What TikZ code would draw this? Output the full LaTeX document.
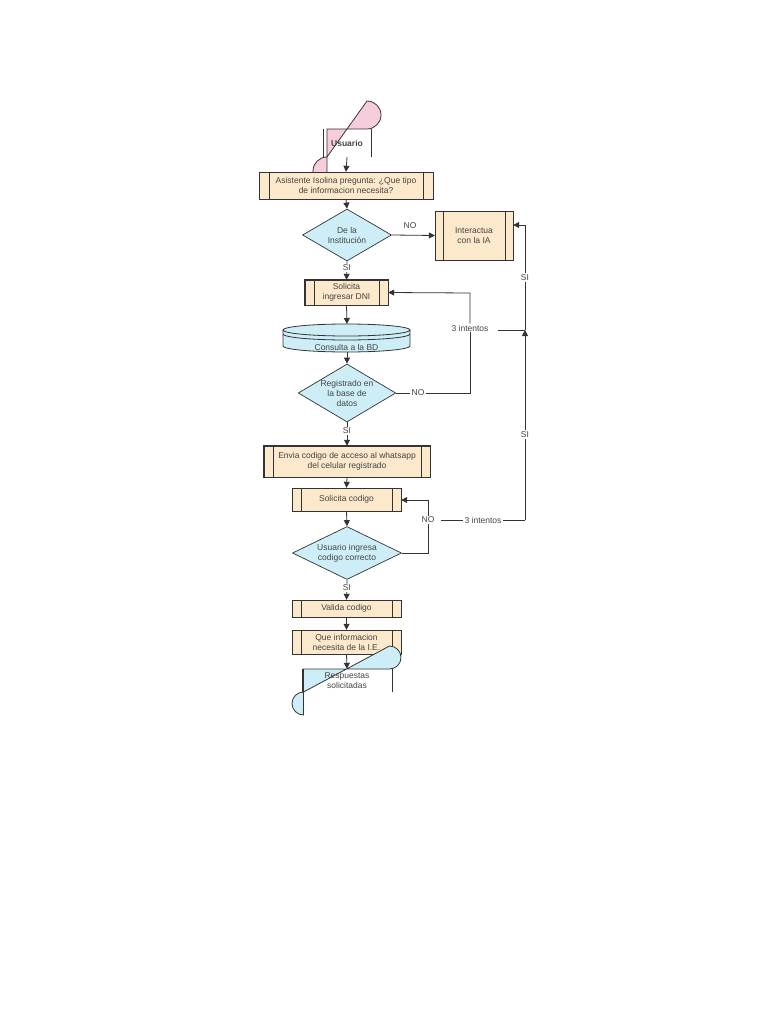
\documentclass[tikz,border=0pt]{standalone}
\usepackage{fontspec}
\setmainfont{Liberation Sans}
\usetikzlibrary{arrows.meta,shapes.geometric}
\definecolor{beige}{HTML}{FCE8CB}
\definecolor{lblue}{HTML}{CDEEF6}
\definecolor{pink}{HTML}{F6CDDC}
\definecolor{ln}{HTML}{333333}
\definecolor{tx}{HTML}{444444}
\begin{document}
\begin{tikzpicture}[x=1pt,y=-1pt,
  every node/.style={font=\fontsize{8.5}{10}\selectfont,text=tx,align=center,inner sep=0pt},
  proc/.style={draw=ln,fill=beige,rectangle,line width=0.7pt},
  dia/.style={draw=ln,fill=lblue,diamond,aspect=1.7,line width=0.7pt},
  arr/.style={-{Triangle[length=6pt,width=6pt]},draw=ln,line width=0.8pt},
  ln/.style={draw=ln,line width=0.8pt},
  lab/.style={fill=white,inner sep=1pt}]
\useasboundingbox (0,0) rectangle (768,1024);
% process helper: inner lines drawn separately
\newcommand{\procbox}[7]{% name, x1,y1,x2,y2, inset, text
  \draw[proc] (#2,#3) rectangle (#4,#5);
  \draw[ln] (#2+#6,#3) -- (#2+#6,#5) (#4-#6,#3) -- (#4-#6,#5);
  \node (#1) at ({(#2+#4)/2},{(#3+#5)/2}) [minimum width=#4-#2,minimum height=#5-#3] {#7};}
% Usuario
\draw[ln,fill=pink] (327,129) -- (367,129) arc[start angle=-90,end angle=90,x radius=14,y radius=-14] -- (327,157) arc[start angle=90,end angle=270,x radius=14,y radius=-14] -- cycle;
\draw[ln] (323,129)--(323,157) (371,129)--(371,157);
\node (u) at (347,143) [minimum width=68,minimum height=28] {\textbf{Usuario}};
\procbox{a}{259}{172}{433}{199}{10}{Asistente Isolina pregunta: ¿Que tipo\\de informacion necesita?}
\node[dia,minimum width=89,minimum height=52] (d1) at (347,235) {De la\\Institución};
\procbox{ia}{435}{211}{513}{260}{8}{Interactua\\con la IA}
\draw[line width=1.3pt,draw=ln] (305,280) rectangle (388,305);
\procbox{dni}{305}{280}{388}{305}{9}{Solicita\\ingresar DNI}
% cylinder
\draw[ln,fill=lblue] (283,330) -- (283,346) arc[start angle=180,end angle=360,x radius=63.5,y radius=-6] -- (410,330);
\draw[ln,fill=lblue] (346.5,330) ellipse[x radius=63.5,y radius=6];
\draw[ln] (283,334) arc[start angle=180,end angle=360,x radius=63.5,y radius=-6];
\node (bd) at (346.5,347) {Consulta a la BD};
\coordinate (bdtop) at (347,324); \coordinate (bdbot) at (347,352);
\node[dia,minimum width=89,minimum height=58] (d2) at (347,393) {Registrado en\\la base de\\datos};
\draw[line width=1.3pt,draw=ln] (264,446) rectangle (430,477);
\procbox{env}{264}{446}{430}{477}{9}{Envia codigo de acceso al whatsapp\\del celular registrado}
\procbox{sc}{292}{488}{401}{511}{9}{Solicita codigo}
\node[dia,minimum width=109,minimum height=46] (d3) at (347,553) {Usuario ingresa\\codigo correcto};
\procbox{val}{292}{600}{401}{617}{9}{Valida codigo}
\procbox{qi}{292}{630}{401}{654}{9}{Que informacion\\necesita de la I.E.}
% Respuestas
\draw[ln,fill=lblue] (303.5,669) -- (389.5,669) arc[start angle=-90,end angle=90,x radius=11.5,y radius=-11.5] -- (303.5,692) arc[start angle=90,end angle=270,x radius=11.5,y radius=-11.5] -- cycle;
\draw[ln] (302,669)--(302,692) (392,669)--(392,692);
\node (r) at (347,680.5) [minimum width=109,minimum height=23] {Respuestas\\solicitadas};
% connectors
\draw[arr] (u.south) -- (a.north);
\draw[arr] (a.south) -- (d1.north);
\draw[arr] (d1.east) -- (ia.west);
\node at (410,226) {NO};
\draw[arr] (d1.south) -- node[lab,pos=0.35]{SI} (dni.north);
\draw[arr] (dni.south) -- (bdtop);
\draw[arr] (bdbot) -- (d2.north);
\coordinate (c1) at (470,393); \coordinate (c2) at (470,293);
\node[lab] (no2) at (418,393) {NO};
\node[lab] (t1) at (470,328) {3 intentos};
\draw[ln] (d2.east) -- (no2.west) (no2.east) -- (c1) -- (t1.south);
\draw[arr] (t1.north) -- (c2) -- (dni.east);
\coordinate (j) at (525,330); \coordinate (k) at (525,225);
\draw[ln] (t1.east)++(8,2) -- (j);
\draw[arr] (j) -- node[lab]{SI} (k) -- (ia.east |- k);
\draw[arr] (d2.south) -- node[lab,pos=0.35]{SI} (env.north);
\draw[arr] (env.south) -- (sc.north);
\draw[arr] (sc.south) -- (d3.north);
\coordinate (m1) at (428,553); \coordinate (m2) at (428,500);
\node[lab] (no3) at (428,520) {NO};
\draw[ln] (d3.east) -- (m1) -- (no3.south);
\draw[arr] (no3.north) -- (m2) -- (sc.east |- m2);
\node[lab] (t2) at (483,520) {3 intentos};
\coordinate (n1) at (525,520);
\draw[ln] (no3.east)++(5,0) -- (t2.west);
\draw[ln] (t2.east) -- (n1);
\draw[arr] (n1) -- node[lab,pos=0.45]{SI} (j);
\draw[arr] (d3.south) -- node[lab,pos=0.4]{SI} (val.north);
\draw[arr] (val.south) -- (qi.north);
\draw[arr] (qi.south) -- (r.north);
\end{tikzpicture}
\end{document}
